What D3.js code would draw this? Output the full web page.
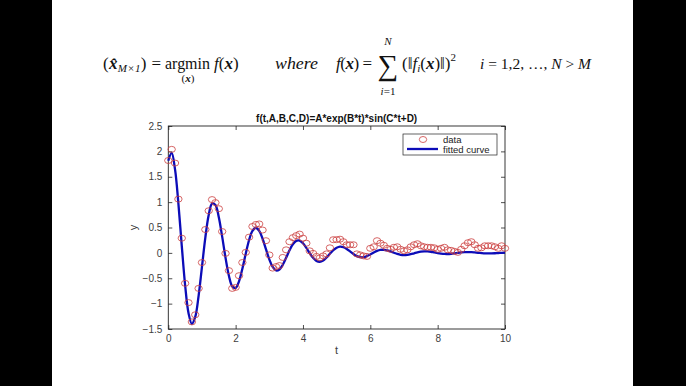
<!DOCTYPE html>
<html>
<head>
<meta charset="utf-8">
<script src="https://cdn.jsdelivr.net/npm/d3@7"></script>
<style>
    body { margin: 0; background: #fff; }
    svg text { font-family: "Liberation Sans", Arial, sans-serif; }
    .math text, text.math { font-family: "Liberation Serif", "DejaVu Serif", serif; fill: #111; }
    .tick text { fill: #404040; font-size: 10px; }
</style>
</head>
<body>
<div id="chart"></div>
<script>
// Data
const tValues = [0.0, 0.1, 0.2, 0.3, 0.4, 0.5, 0.6, 0.7, 0.8, 0.9,
    1.0, 1.1, 1.2, 1.3, 1.4, 1.5, 1.6, 1.7, 1.8, 1.9,
    2.0, 2.1, 2.2, 2.3, 2.4, 2.5, 2.6, 2.7, 2.8, 2.9,
    3.0, 3.1, 3.2, 3.3, 3.4, 3.5, 3.6, 3.7, 3.8, 3.9,
    4.0, 4.1, 4.2, 4.3, 4.4, 4.5, 4.6, 4.7, 4.8, 4.9,
    5.0, 5.1, 5.2, 5.3, 5.4, 5.5, 5.6, 5.7, 5.8, 5.9,
    6.0, 6.1, 6.2, 6.3, 6.4, 6.5, 6.6, 6.7, 6.8, 6.9,
    7.0, 7.1, 7.2, 7.3, 7.4, 7.5, 7.6, 7.7, 7.8, 7.9,
    8.0, 8.1, 8.2, 8.3, 8.4, 8.5, 8.6, 8.7, 8.8, 8.9,
    9.0, 9.1, 9.2, 9.3, 9.4, 9.5, 9.6, 9.7, 9.8, 9.9, 10.0];

// measured data (red circles)
const dataY = [1.82, 2.04, 1.77, 1.06, 0.29, -0.60, -0.98, -1.36, -1.22, -0.70,
    -0.19, 0.46, 0.83, 1.05, 0.99, 0.87, 0.42, -0.01, -0.35, -0.70,
    -0.68, -0.45, -0.19, 0.01, 0.31, 0.52, 0.56, 0.57, 0.45, 0.24,
    -0.04, -0.30, -0.27, -0.25, -0.09, 0.06, 0.22, 0.30, 0.34, 0.37,
    0.29, 0.19, 0.04, -0.01, -0.07, -0.10, -0.06, -0.02, 0.10, 0.26,
    0.26, 0.27, 0.22, 0.16, 0.16, 0.16, -0.02, -0.04, -0.06, -0.07,
    0.09, 0.12, 0.24, 0.19, 0.15, 0.09, 0.07, 0.11, 0.12, 0.07,
    0.04, 0.06, 0.12, 0.16, 0.18, 0.14, 0.12, 0.11, 0.11, 0.10,
    0.07, 0.09, 0.11, 0.06, 0.05, 0.03, 0.01, 0.07, 0.14, 0.20,
    0.22, 0.16, 0.09, 0.10, 0.14, 0.14, 0.14, 0.12, 0.09, 0.14, 0.09];

// fitted curve (blue line), sampled at the same t values
const fitY = [1.816, 1.969, 1.645, 0.970, 0.139, -0.638, -1.185, -1.398, -1.263, -0.846,
    -0.275, 0.301, 0.746, 0.971, 0.945, 0.702, 0.319, -0.098, -0.449, -0.658,
    -0.691, -0.560, -0.311, -0.016, 0.253, 0.434, 0.495, 0.434, 0.278, 0.073,
    -0.127, -0.277, -0.347, -0.328, -0.234, -0.096, 0.050, 0.170, 0.237, 0.242,
    0.190, 0.099, -0.006, -0.098, -0.158, -0.175, -0.149, -0.091, -0.018, 0.052,
    0.102, 0.124, 0.113, 0.078, 0.028, -0.023, -0.064, -0.085, -0.085, -0.064,
    -0.031, 0.006, 0.038, 0.057, 0.061, 0.051, 0.029, 0.003, -0.021, -0.038,
    -0.044, -0.039, -0.026, -0.008, 0.010, 0.024, 0.031, 0.029, 0.022, 0.009,
    -0.004, -0.014, -0.021, -0.022, -0.017, -0.009, 0.000, 0.008, 0.014, 0.015,
    0.013, 0.008, 0.002, -0.004, -0.009, -0.011, -0.010, -0.007, -0.003, 0.002, 0.005];

const xTicks = [0, 2, 4, 6, 8, 10];
const yTicks = [-1.5, -1, -0.5, 0, 0.5, 1, 1.5, 2, 2.5];
const titleText = 'f(t,A,B,C,D)=A*exp(B*t)*sin(C*t+D)';
const legendLabels = ['data', 'fitted curve'];

function drawChart() {
    const width = 686;
    const height = 386;
    const plot = {left: 168.3, right: 505, top: 126, bottom: 329};

    const svg = d3.select('#chart')
        .append('svg')
        .attr('width', width)
        .attr('height', height);

    svg.append('rect').attr('width', width).attr('height', height).attr('fill', '#fff');

    // black side bars
    svg.append('rect').attr('x', 0).attr('y', 0).attr('width', 52).attr('height', height).attr('fill', '#000');
    svg.append('rect').attr('x', 633).attr('y', 0).attr('width', width - 633).attr('height', height).attr('fill', '#000');

    drawFormula(svg);

    const x = d3.scaleLinear().domain([0, 10]).range([plot.left, plot.right]);
    const y = d3.scaleLinear().domain([-1.5, 2.5]).range([plot.bottom, plot.top]);

    // axes, MATLAB style: ticks inside, mirrored on top and right
    const axisColor = '#222';
    const styleAxis = g => {
        g.select('.domain').remove();
        g.selectAll('.tick line').attr('stroke', axisColor).attr('stroke-width', 0.8);
        g.selectAll('.tick text').style('font-family', '"Liberation Sans", Arial, sans-serif');
    };

    svg.append('g')
        .attr('transform', `translate(0,${plot.bottom})`)
        .call(d3.axisBottom(x).tickValues(xTicks).tickSizeInner(-4).tickSizeOuter(0).tickPadding(6).tickFormat(d3.format('d')))
        .call(styleAxis);
    svg.append('g')
        .attr('transform', `translate(0,${plot.top})`)
        .call(d3.axisTop(x).tickValues(xTicks).tickSizeInner(-4).tickSizeOuter(0).tickFormat(''))
        .call(styleAxis);
    svg.append('g')
        .attr('transform', `translate(${plot.left},0)`)
        .call(d3.axisLeft(y).tickValues(yTicks).tickSizeInner(-4).tickSizeOuter(0).tickPadding(6).tickFormat(d3.format('')))
        .call(styleAxis);
    svg.append('g')
        .attr('transform', `translate(${plot.right},0)`)
        .call(d3.axisRight(y).tickValues(yTicks).tickSizeInner(-4).tickSizeOuter(0).tickFormat(''))
        .call(styleAxis);

    // box
    svg.append('rect')
        .attr('x', plot.left).attr('y', plot.top)
        .attr('width', plot.right - plot.left).attr('height', plot.bottom - plot.top)
        .attr('fill', 'none').attr('stroke', axisColor).attr('stroke-width', 0.9);

    // fitted curve
    const points = tValues.map((t, i) => ({t: t, v: fitY[i]}));
    const line = d3.line()
        .x(d => x(d.t))
        .y(d => y(d.v))
        .curve(d3.curveCatmullRom.alpha(0.5));
    svg.append('path')
        .datum(points)
        .attr('d', line)
        .attr('fill', 'none')
        .attr('stroke', '#0c0cb8')
        .attr('stroke-width', 2.3)
        .attr('stroke-linejoin', 'round');

    // data circles
    svg.append('g')
        .selectAll('ellipse')
        .data(tValues.map((t, i) => ({t: t, v: dataY[i]})))
        .enter()
        .append('ellipse')
        .attr('cx', d => x(d.t))
        .attr('cy', d => y(d.v))
        .attr('rx', 3.7)
        .attr('ry', 3.0)
        .attr('fill', 'none')
        .attr('stroke', '#cc4040')
        .attr('stroke-width', 0.8);

    // title
    svg.append('text')
        .attr('x', (plot.left + plot.right) / 2)
        .attr('y', 122)
        .attr('text-anchor', 'middle')
        .style('font-size', '10px')
        .style('font-weight', 'bold')
        .attr('fill', '#111')
        .text(titleText);

    // axis labels
    svg.append('text')
        .attr('x', (plot.left + plot.right) / 2)
        .attr('y', 354)
        .attr('text-anchor', 'middle')
        .style('font-size', '11px')
        .attr('fill', '#404040')
        .text('t');
    svg.append('text')
        .attr('transform', `translate(137,${(plot.top + plot.bottom) / 2}) rotate(-90)`)
        .attr('text-anchor', 'middle')
        .style('font-size', '11px')
        .attr('fill', '#404040')
        .text('y');

    // legend
    const legend = svg.append('g').attr('transform', 'translate(403,134)');
    legend.append('rect')
        .attr('width', 94).attr('height', 21)
        .attr('fill', '#fff').attr('stroke', axisColor).attr('stroke-width', 0.7);
    legend.append('ellipse')
        .attr('cx', 20).attr('cy', 5.5).attr('rx', 3.7).attr('ry', 3.0)
        .attr('fill', 'none').attr('stroke', '#cc4040').attr('stroke-width', 0.8);
    legend.append('line')
        .attr('x1', 4).attr('x2', 35).attr('y1', 15).attr('y2', 15)
        .attr('stroke', '#0c0cb8').attr('stroke-width', 2.3);
    legend.selectAll('text.lbl')
        .data(legendLabels)
        .enter()
        .append('text')
        .attr('class', 'lbl')
        .attr('x', 40)
        .attr('y', (d, i) => 9 + i * 9.5)
        .style('font-size', '9.5px')
        .attr('fill', '#222')
        .text(d => d);
}

// Formula line above the chart
function drawFormula(svg) {
    const g = svg.append('g').attr('class', 'math');
    const base = 69;
    const fs = 17;

    const t1 = g.append('text').attr('x', 103).attr('y', base).style('font-size', fs + 'px')
        .attr('textLength', 58).attr('lengthAdjust', 'spacing');
    t1.append('tspan').text('(');
    t1.append('tspan').style('font-weight', 'bold').style('font-style', 'italic').text('x\u0302');
    t1.append('tspan').attr('dy', 3).style('font-size', '11px').style('font-style', 'italic').text('M×1');
    t1.append('tspan').attr('dy', -3).text(') =');

    g.append('text').attr('x', 165).attr('y', base).style('font-size', fs + 'px')
        .attr('textLength', 45).attr('lengthAdjust', 'spacingAndGlyphs').text('argmin');
    const sub = g.append('text').attr('x', 188).attr('y', 82).attr('text-anchor', 'middle').style('font-size', '11px');
    sub.append('tspan').text('(');
    sub.append('tspan').style('font-weight', 'bold').style('font-style', 'italic').text('x');
    sub.append('tspan').text(')');

    const fx = g.append('text').attr('x', 214).attr('y', base).style('font-size', fs + 'px');
    fx.append('tspan').style('font-style', 'italic').text('f');
    fx.append('tspan').text('(');
    fx.append('tspan').style('font-weight', 'bold').style('font-style', 'italic').text('x');
    fx.append('tspan').text(')');

    g.append('text').attr('x', 275).attr('y', base).style('font-size', fs + 'px').style('font-style', 'italic')
        .attr('textLength', 43).attr('lengthAdjust', 'spacingAndGlyphs').text('where');

    const fx2 = g.append('text').attr('x', 336).attr('y', base).style('font-size', fs + 'px')
        .attr('textLength', 36).attr('lengthAdjust', 'spacing');
    fx2.append('tspan').style('font-style', 'italic').text('f');
    fx2.append('tspan').text('(');
    fx2.append('tspan').style('font-weight', 'bold').style('font-style', 'italic').text('x');
    fx2.append('tspan').text(') =');

    g.append('text').attr('x', 388).attr('y', 75).attr('text-anchor', 'middle').style('font-size', '29px').text('∑');
    g.append('text').attr('x', 388).attr('y', 45).attr('text-anchor', 'middle').style('font-size', '11px').style('font-style', 'italic').text('N');
    const low = g.append('text').attr('x', 388).attr('y', 95).attr('text-anchor', 'middle').style('font-size', '11px');
    low.append('tspan').style('font-style', 'italic').text('i');
    low.append('tspan').text('=1');

    const norm = g.append('text').attr('x', 402).attr('y', base).style('font-size', fs + 'px');
    norm.append('tspan').text('(‖');
    norm.append('tspan').style('font-style', 'italic').text('f');
    norm.append('tspan').attr('dy', 3).style('font-size', '11px').style('font-style', 'italic').text('i');
    norm.append('tspan').attr('dy', -3).text('(');
    norm.append('tspan').style('font-weight', 'bold').style('font-style', 'italic').text('x');
    norm.append('tspan').text(')‖)');
    norm.append('tspan').attr('dy', -8).style('font-size', '11px').text('2');

    const idx = g.append('text').attr('x', 480).attr('y', base).style('font-size', '15.5px');
    idx.append('tspan').style('font-style', 'italic').text('i');
    idx.append('tspan').text(' = 1,2, …, ');
    idx.append('tspan').style('font-style', 'italic').text('N');
    idx.append('tspan').text(' > ');
    idx.append('tspan').style('font-style', 'italic').text('M');
}

document.addEventListener('DOMContentLoaded', drawChart);
</script>
</body>
</html>
